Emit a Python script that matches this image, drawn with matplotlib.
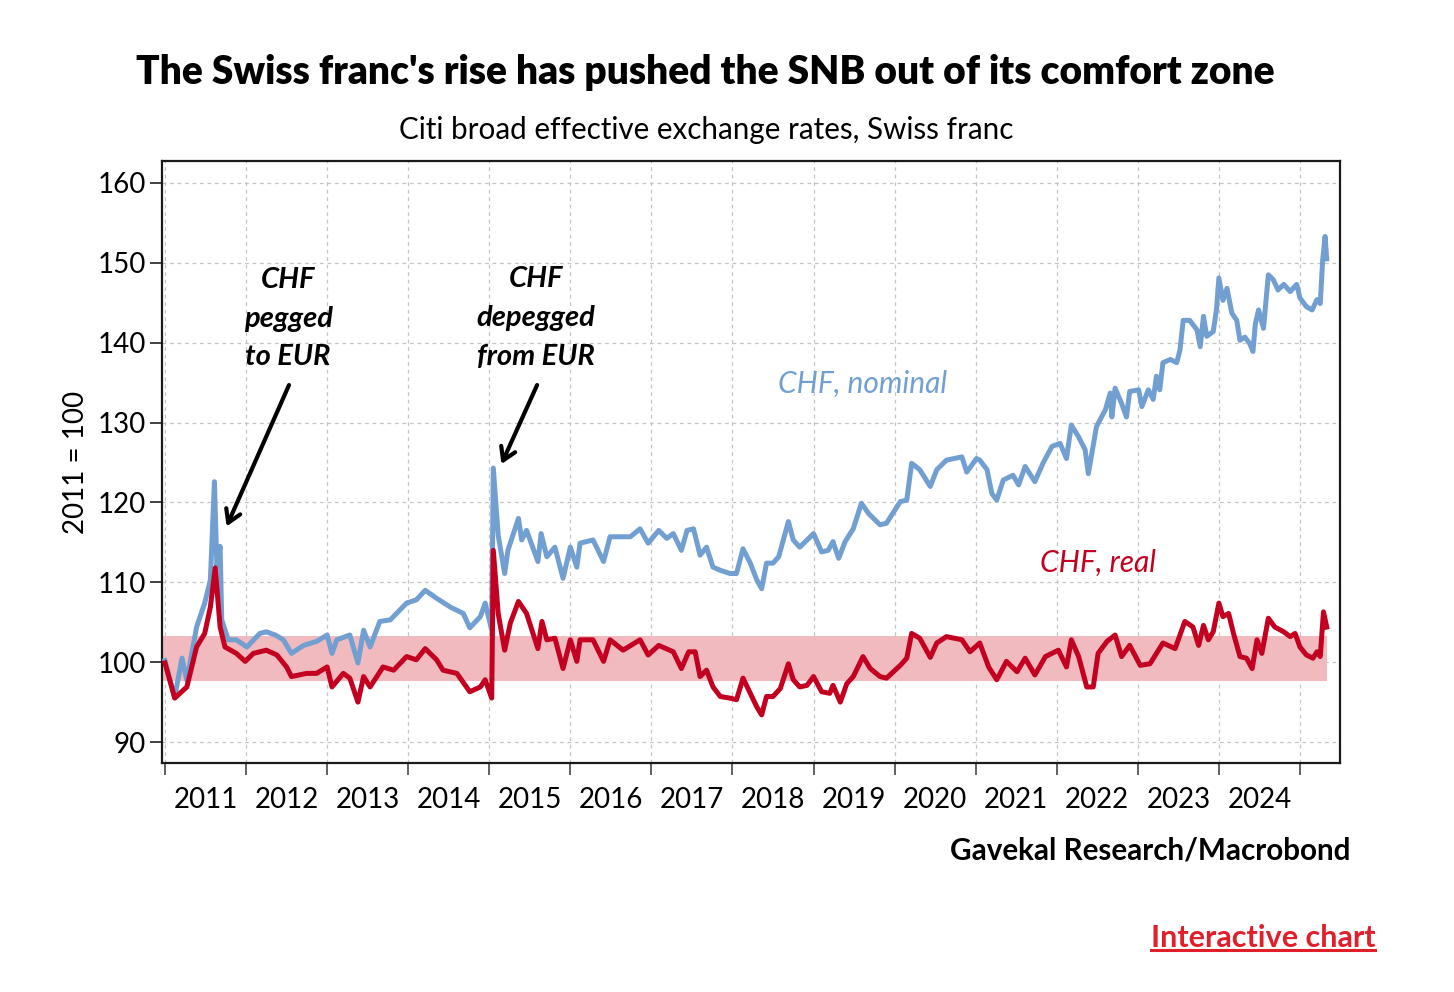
import matplotlib
matplotlib.use("Agg")
import matplotlib.pyplot as plt
from matplotlib.lines import Line2D

plt.rcParams['font.family'] = ['Lato', 'DejaVu Sans']

# Citi broad effective exchange rates, Swiss franc (2011 = 100)
nominal_x = [2011.00, 2011.12, 2011.21, 2011.27, 2011.39, 2011.49, 2011.56, 2011.61, 2011.64, 2011.68,
             2011.70, 2011.78, 2011.88, 2012.01, 2012.17, 2012.25, 2012.36, 2012.46, 2012.56, 2012.71,
             2012.87, 2013.00, 2013.06, 2013.12, 2013.28, 2013.38, 2013.45, 2013.53, 2013.65, 2013.78,
             2013.98, 2014.10, 2014.21, 2014.35, 2014.52, 2014.68, 2014.76, 2014.89, 2014.95, 2015.03,
             2015.05, 2015.11, 2015.19, 2015.23, 2015.36, 2015.40, 2015.46, 2015.60, 2015.64, 2015.71,
             2015.81, 2015.91, 2016.00, 2016.08, 2016.12, 2016.28, 2016.41, 2016.49, 2016.61, 2016.74,
             2016.86, 2016.96, 2017.09, 2017.19, 2017.27, 2017.37, 2017.44, 2017.52, 2017.60, 2017.68,
             2017.76, 2017.85, 2017.97, 2018.05, 2018.13, 2018.22, 2018.30, 2018.36, 2018.42, 2018.50,
             2018.57, 2018.69, 2018.75, 2018.83, 2018.92, 2019.00, 2019.10, 2019.18, 2019.24, 2019.31,
             2019.39, 2019.49, 2019.59, 2019.68, 2019.82, 2019.90, 2020.07, 2020.15, 2020.21, 2020.31,
             2020.44, 2020.52, 2020.64, 2020.83, 2020.89, 2021.01, 2021.05, 2021.14, 2021.20, 2021.26,
             2021.34, 2021.46, 2021.53, 2021.61, 2021.73, 2021.83, 2021.94, 2022.04, 2022.12, 2022.18,
             2022.27, 2022.35, 2022.39, 2022.49, 2022.60, 2022.66, 2022.68, 2022.72, 2022.80, 2022.86,
             2022.90, 2023.01, 2023.05, 2023.13, 2023.19, 2023.23, 2023.27, 2023.31, 2023.40, 2023.48,
             2023.52, 2023.56, 2023.64, 2023.73, 2023.77, 2023.81, 2023.85, 2023.93, 2023.97, 2024.00,
             2024.05, 2024.10, 2024.16, 2024.22, 2024.26, 2024.32, 2024.38, 2024.42, 2024.45, 2024.49,
             2024.55, 2024.61, 2024.67, 2024.73, 2024.80, 2024.88, 2024.96, 2025.00, 2025.08, 2025.15,
             2025.21, 2025.25, 2025.28, 2025.31, 2025.33]
nominal = [100.2, 95.6, 100.5, 97.7, 104.4, 107.4, 110.3, 122.6, 112.0, 114.5,
           105.3, 102.8, 102.8, 101.9, 103.6, 103.8, 103.4, 102.8, 101.1, 102.1,
           102.6, 103.4, 101.1, 102.8, 103.4, 99.9, 104.0, 101.9, 105.1, 105.3,
           107.4, 107.8, 109.0, 108.0, 106.9, 106.1, 104.3, 105.7, 107.4, 104.0,
           124.3, 115.9, 111.1, 114.0, 118.0, 115.3, 116.5, 112.6, 116.1, 113.2,
           114.4, 110.5, 114.4, 111.9, 114.9, 115.3, 112.6, 115.7, 115.7, 115.7,
           116.7, 114.9, 116.5, 115.5, 116.1, 114.0, 116.5, 116.7, 113.4, 114.4,
           111.9, 111.5, 111.1, 111.1, 114.2, 112.4, 110.3, 109.2, 112.4, 112.4,
           113.2, 117.6, 115.3, 114.4, 115.3, 116.1, 113.8, 114.0, 115.1, 113.0,
           115.1, 116.7, 119.9, 118.6, 117.2, 117.4, 120.1, 120.3, 124.9, 124.1,
           122.0, 124.1, 125.3, 125.7, 123.8, 125.5, 125.3, 124.1, 121.1, 120.3,
           122.8, 123.4, 122.2, 124.5, 122.6, 124.9, 127.0, 127.4, 125.5, 129.7,
           128.2, 126.6, 123.6, 129.5, 131.6, 133.7, 130.7, 134.3, 132.4, 130.7,
           133.9, 134.1, 132.0, 134.1, 132.9, 135.8, 134.1, 137.5, 137.9, 137.5,
           139.1, 142.8, 142.8, 141.6, 139.5, 143.3, 140.8, 141.4, 144.1, 148.1,
           145.3, 146.8, 143.7, 142.8, 140.3, 140.7, 139.9, 138.9, 142.4, 144.1,
           141.8, 148.5, 147.9, 146.6, 147.3, 146.4, 147.3, 145.6, 144.5, 144.1,
           145.4, 144.9, 150.3, 153.3, 150.5]

real_x = [2011.00, 2011.12, 2011.27, 2011.39, 2011.49, 2011.56, 2011.62, 2011.68, 2011.74, 2011.88,
          2011.99, 2012.09, 2012.25, 2012.38, 2012.50, 2012.56, 2012.75, 2012.87, 2013.00, 2013.06,
          2013.20, 2013.28, 2013.38, 2013.45, 2013.53, 2013.69, 2013.82, 2013.98, 2014.10, 2014.21,
          2014.35, 2014.43, 2014.60, 2014.76, 2014.89, 2014.95, 2015.03, 2015.05, 2015.11, 2015.19,
          2015.26, 2015.36, 2015.46, 2015.60, 2015.65, 2015.71, 2015.81, 2015.91, 2016.00, 2016.08,
          2016.12, 2016.28, 2016.41, 2016.49, 2016.65, 2016.86, 2016.96, 2017.09, 2017.27, 2017.37,
          2017.46, 2017.54, 2017.60, 2017.68, 2017.76, 2017.85, 2017.97, 2018.05, 2018.13, 2018.22,
          2018.30, 2018.36, 2018.42, 2018.50, 2018.59, 2018.69, 2018.75, 2018.83, 2018.92, 2019.00,
          2019.10, 2019.20, 2019.24, 2019.33, 2019.41, 2019.49, 2019.61, 2019.70, 2019.82, 2019.90,
          2020.07, 2020.15, 2020.21, 2020.31, 2020.44, 2020.52, 2020.64, 2020.83, 2020.93, 2021.05,
          2021.16, 2021.26, 2021.38, 2021.51, 2021.61, 2021.73, 2021.86, 2022.02, 2022.12, 2022.18,
          2022.27, 2022.37, 2022.45, 2022.51, 2022.62, 2022.72, 2022.80, 2022.90, 2023.03, 2023.15,
          2023.31, 2023.46, 2023.58, 2023.68, 2023.75, 2023.81, 2023.87, 2023.93, 2024.00, 2024.05,
          2024.12, 2024.18, 2024.26, 2024.34, 2024.41, 2024.47, 2024.53, 2024.61, 2024.69, 2024.80,
          2024.88, 2024.94, 2025.00, 2025.08, 2025.16, 2025.21, 2025.25, 2025.29, 2025.33]
real = [99.9, 95.5, 96.9, 101.9, 103.6, 106.9, 111.8, 104.4, 101.9, 101.1,
        100.1, 101.1, 101.5, 100.9, 99.4, 98.2, 98.6, 98.6, 99.4, 96.9,
        98.6, 98.0, 95.0, 98.2, 96.9, 99.4, 99.0, 100.7, 100.3, 101.7,
        100.3, 99.0, 98.6, 96.3, 96.9, 97.8, 95.5, 114.0, 106.1, 101.5,
        104.9, 107.6, 106.1, 101.7, 105.1, 102.8, 103.0, 99.2, 102.8, 100.1,
        102.8, 102.8, 100.1, 102.8, 101.5, 102.8, 100.9, 102.1, 101.3, 99.2,
        101.3, 101.3, 98.2, 99.0, 96.9, 95.7, 95.5, 95.3, 98.0, 96.1,
        94.4, 93.4, 95.7, 95.7, 96.7, 99.8, 97.8, 96.9, 97.1, 98.2,
        96.3, 96.1, 97.1, 95.0, 97.3, 98.2, 100.7, 99.2, 98.2, 98.0,
        99.6, 100.5, 103.6, 103.0, 100.6, 102.4, 103.2, 102.8, 101.3, 102.4,
        99.4, 97.8, 100.1, 98.8, 100.5, 98.4, 100.7, 101.5, 99.4, 102.8,
        100.7, 96.9, 96.9, 101.1, 102.6, 103.4, 100.7, 102.1, 99.6, 99.8,
        102.4, 101.7, 105.1, 104.4, 102.1, 104.6, 102.8, 103.8, 107.4, 105.7,
        106.1, 103.6, 100.7, 100.5, 99.2, 102.8, 101.1, 105.5, 104.4, 103.8,
        103.2, 103.6, 101.9, 100.9, 100.5, 101.3, 100.7, 106.3, 104.4]

# comfort zone band
band_low, band_high = 97.7, 103.3
band_end = 2025.33

years = list(range(2011, 2026))
year_labels = [str(y) for y in range(2011, 2025)]

BLUE = '#729fd1'
RED = '#c3001f'

fig = plt.figure(figsize=(14.54, 9.92), dpi=100)
ax = fig.add_axes([0.1114, 0.2308, 0.8102, 0.6069])

ax.fill_between([2010.963, band_end], band_low, band_high, color='#f0babe', lw=0, zorder=1)
ax.plot(nominal_x, nominal, color=BLUE, lw=3.6, zorder=3)
ax.plot(real_x, real, color=RED, lw=3.6, zorder=3)

ax.set_xlim(2010.963, 2025.494)
ax.set_ylim(87.37, 162.75)
ax.set_yticks(range(90, 161, 10))
ax.set_xticks(years)
ax.set_xticklabels([])
ax.set_xticks([y + 0.5 for y in range(2011, 2025)], minor=True)
ax.set_xticklabels(year_labels, minor=True)

ax.tick_params(axis='x', which='major', length=8.5, width=1.3, color='#555555', direction='out')
ax.tick_params(axis='x', which='minor', length=0, pad=17, labelsize=20)
ax.tick_params(axis='y', length=8.5, width=1.3, color='#333333', pad=3, labelsize=20)

ax.grid(True, which='major', color='#c4c4c4', lw=0.9, linestyle=(0, (3, 3)), zorder=0)
ax.set_axisbelow(True)
for s in ax.spines.values():
    s.set_color('#1a1a1a')
    s.set_linewidth(1.6)

ax.set_ylabel('2011 = 100', fontsize=20, labelpad=6)

ann_font = dict(fontsize=21, fontstyle='italic', fontweight='bold', ha='center', va='center',
                linespacing=1.6)
ax.text(2012.52, 143.0, 'CHF\npegged\nto EUR', **ann_font)
ax.text(2015.58, 143.1, 'CHF\ndepegged\nfrom EUR', **ann_font)
arrow = dict(arrowstyle='->,head_length=0.9,head_width=0.55', lw=3, color='black',
             shrinkA=0, shrinkB=0)
ax.annotate('', xy=(2011.76, 117.0), xytext=(2012.53, 134.7), arrowprops=arrow)
ax.annotate('', xy=(2015.15, 124.8), xytext=(2015.59, 134.7), arrowprops=arrow)

ax.text(2019.60, 134.8, 'CHF, nominal', color=BLUE, fontsize=21.5, fontstyle='italic',
        ha='center', va='center')
ax.text(2022.51, 112.5, 'CHF, real', color=RED, fontsize=21.5, fontstyle='italic',
        ha='center', va='center')

fig.text(0.4853, 0.927, "The Swiss franc's rise has pushed the SNB out of its comfort zone",
         fontsize=28, fontweight='heavy', ha='center', va='center')
fig.text(0.4856, 0.869, 'Citi broad effective exchange rates, Swiss franc',
         fontsize=21.3, ha='center', va='center')
fig.text(0.929, 0.143, 'Gavekal Research/Macrobond', fontsize=21.3, fontweight='bold',
         ha='right', va='center')
link = fig.text(0.9457, 0.0544, 'Interactive chart', fontsize=22, fontweight='bold',
                color='#e01f2b', ha='right', va='center')

# underline the link text
fig.canvas.draw()
bb = link.get_window_extent().transformed(fig.transFigure.inverted())
fig.add_artist(Line2D([bb.x0, bb.x1], [bb.y0 + 0.002, bb.y0 + 0.002], color='#e01f2b', lw=2.2))

fig.savefig('out.png', dpi=100)
